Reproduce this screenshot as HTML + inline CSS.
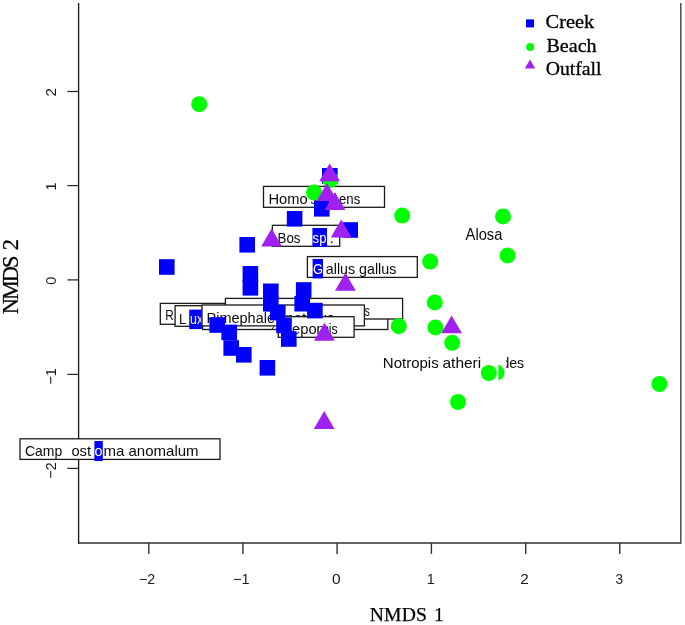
<!DOCTYPE html>
<html lang="en">
<head>
<meta charset="utf-8">
<title>NMDS ordination</title>
<style>
html,body{margin:0;padding:0;background:#ffffff;}
body{width:685px;height:625px;overflow:hidden;}
svg{display:block;}
.bx{fill:#ffffff;stroke:#1a1a1a;stroke-width:1.3;}
.lb{font-family:"Liberation Sans",sans-serif;font-size:14.6px;font-kerning:none;fill:#0a0a0a;}
.big{font-size:15.6px;}
.tk{font-family:"Liberation Sans",sans-serif;font-size:14.3px;font-kerning:none;fill:#1a1a1a;}
.ti{font-family:"Liberation Serif",serif;font-size:19.6px;fill:#000000;stroke:#000000;stroke-width:0.25px;}
.ti2{font-family:"Liberation Serif",serif;font-size:22.4px;fill:#000000;stroke:#000000;stroke-width:0.25px;}
.lg{font-family:"Liberation Serif",serif;font-size:19.8px;font-kerning:none;fill:#000000;stroke:#000000;stroke-width:0.3px;}
</style>
</head>
<body>
<svg width="685" height="625" viewBox="0 0 685 625">
<rect x="0" y="0" width="685" height="625" fill="#ffffff"/>
<path d="M78.6,543.0 H680.8" fill="none" stroke="#303030" stroke-width="1.6"/>
<path d="M78.6,3.0 V543.8" fill="none" stroke="#1a1a1a" stroke-width="1.35"/>
<path d="M680.8,3.0 V543.8" fill="none" stroke="#4d4d4d" stroke-width="1.5"/>
<path d="M148.8,543.0 V553.9" stroke="#303030" stroke-width="1.4"/>
<path d="M242.9,543.0 V553.9" stroke="#303030" stroke-width="1.4"/>
<path d="M337.1,543.0 V553.9" stroke="#303030" stroke-width="1.4"/>
<path d="M431.4,543.0 V553.9" stroke="#303030" stroke-width="1.4"/>
<path d="M525.7,543.0 V553.9" stroke="#303030" stroke-width="1.4"/>
<path d="M619.8,543.0 V553.9" stroke="#303030" stroke-width="1.4"/>
<path d="M78.6,91.5 H67.39999999999999" stroke="#262626" stroke-width="1.25"/>
<path d="M78.6,185.6 H67.39999999999999" stroke="#262626" stroke-width="1.25"/>
<path d="M78.6,279.9 H67.39999999999999" stroke="#262626" stroke-width="1.25"/>
<path d="M78.6,374.4 H67.39999999999999" stroke="#262626" stroke-width="1.25"/>
<path d="M78.6,468.4 H67.39999999999999" stroke="#262626" stroke-width="1.25"/>
<text class="tk" x="138.9" y="583.6" textLength="16.2" lengthAdjust="spacingAndGlyphs">−2</text>
<text class="tk" x="232.9" y="583.6" textLength="16.6" lengthAdjust="spacingAndGlyphs">−1</text>
<text class="tk" x="332.0" y="583.6" textLength="8.6" lengthAdjust="spacingAndGlyphs">0</text>
<text class="tk" x="426.7" y="583.6" textLength="8.0" lengthAdjust="spacingAndGlyphs">1</text>
<text class="tk" x="520.2" y="583.6" textLength="8.5" lengthAdjust="spacingAndGlyphs">2</text>
<text class="tk" x="615.5" y="583.6" textLength="7.5" lengthAdjust="spacingAndGlyphs">3</text>
<g transform="translate(56.1,92.3) rotate(-90) scale(1,1.07)">
<text class="tk" x="-4.2" y="0.0" textLength="8.4" lengthAdjust="spacingAndGlyphs">2</text>
</g>
<g transform="translate(56.1,186.2) rotate(-90) scale(1,1.07)">
<text class="tk" x="-4.2" y="0.0" textLength="8.0" lengthAdjust="spacingAndGlyphs">1</text>
</g>
<g transform="translate(56.1,280.7) rotate(-90) scale(1,1.07)">
<text class="tk" x="-4.0" y="0.0" textLength="8.0" lengthAdjust="spacingAndGlyphs">0</text>
</g>
<g transform="translate(56.1,376.4) rotate(-90) scale(1,1.07)">
<text class="tk" x="-8.2" y="0.0" textLength="16.4" lengthAdjust="spacingAndGlyphs">−1</text>
</g>
<g transform="translate(56.1,470.4) rotate(-90) scale(1,1.07)">
<text class="tk" x="-8.2" y="0.0" textLength="16.4" lengthAdjust="spacingAndGlyphs">−2</text>
</g>
<text class="ti" x="369.7" y="621.0" textLength="57.3" lengthAdjust="spacing">NMDS</text>
<text class="ti" x="433.9" y="621.0">1</text>
<g transform="translate(18.4,314.2) rotate(-90)"><text class="ti2" x="0" y="0" textLength="58.6" lengthAdjust="spacing">NMDS</text><text class="ti2" x="63.9" y="0">2</text></g>
<rect x="526.0" y="19.4" width="8.0" height="8.0" fill="#0000ff"/>
<circle cx="530.2" cy="47.0" r="4.0" fill="#00ff00"/>
<polygon points="530,59.6 524.8,68.6 535.2,68.6" fill="#a020f0"/>
<text class="lg" x="545.6" y="27.6" textLength="48.6" lengthAdjust="spacingAndGlyphs">Creek</text>
<text class="lg" x="546.4" y="52.2" textLength="50.3" lengthAdjust="spacingAndGlyphs">Beach</text>
<text class="lg" x="545.7" y="75.0" textLength="55.9" lengthAdjust="spacingAndGlyphs">Outfall</text>
<text class="lb big" x="465.6" y="239.7" textLength="36.8" lengthAdjust="spacingAndGlyphs">Alosa</text>
<text class="lb" x="382.8" y="367.8" textLength="55.9" lengthAdjust="spacingAndGlyphs">Notropis</text>
<text class="lb" x="442.5" y="367.8" textLength="38.7" lengthAdjust="spacingAndGlyphs">atheri</text>
<text class="lb" x="480.6" y="367.8" textLength="20.5" lengthAdjust="spacingAndGlyphs" style="fill:#ffffff">noi</text>
<clipPath id="cd"><rect x="505.8" y="350" width="30" height="24"/></clipPath>
<g clip-path="url(#cd)">
<text class="lb" x="501.4" y="367.8" textLength="22.7" lengthAdjust="spacingAndGlyphs">des</text>
</g>
<rect class="bx" x="263.5" y="186.4" width="121.0" height="20.9"/>
<text class="lb" x="268.5" y="203.6" textLength="39.2" lengthAdjust="spacingAndGlyphs">Homo</text>
<text class="lb" x="310.6" y="203.6" textLength="25.7" lengthAdjust="spacingAndGlyphs">sapi</text>
<text class="lb" x="339.0" y="203.6" textLength="21.3" lengthAdjust="spacingAndGlyphs">ens</text>
<rect class="bx" x="272.4" y="225.3" width="67.3" height="21.0"/>
<text class="lb" x="277.5" y="242.6" textLength="23.0" lengthAdjust="spacingAndGlyphs">Bos</text>
<rect x="312.4" y="228.0" width="14.6" height="19.0" fill="#0000ff"/>
<text class="lb" x="312.6" y="242.6" textLength="13.9" lengthAdjust="spacingAndGlyphs" style="fill:#ffffff">sp</text>
<text class="lb" x="329.6" y="242.6" textLength="4.4" lengthAdjust="spacingAndGlyphs">.</text>
<rect class="bx" x="307.4" y="256.6" width="109.9" height="20.8"/>
<rect x="312.6" y="259.0" width="10.4" height="19.4" fill="#0000ff"/>
<text class="lb" x="313.0" y="273.6" textLength="10.0" lengthAdjust="spacingAndGlyphs" style="fill:#ffffff">G</text>
<text class="lb" x="325.8" y="273.6" textLength="70.5" lengthAdjust="spacingAndGlyphs">allus gallus</text>
<rect class="bx" x="20.0" y="438.8" width="200.0" height="20.6"/>
<text class="lb" x="24.9" y="456.4" textLength="37.3" lengthAdjust="spacingAndGlyphs">Camp</text>
<text class="lb" x="71.4" y="456.4" textLength="19.7" lengthAdjust="spacingAndGlyphs">ost</text>
<rect x="94.4" y="441.0" width="8.4" height="20.0" fill="#0000ff"/>
<text class="lb" x="94.6" y="456.4" textLength="8.0" lengthAdjust="spacingAndGlyphs" style="fill:#ffffff">o</text>
<text class="lb" x="103.4" y="456.4" textLength="95.2" lengthAdjust="spacingAndGlyphs">ma anomalum</text>
<rect class="bx" x="160.3" y="303.4" width="169.7" height="20.9"/>
<text class="lb" x="165.2" y="320.2" textLength="8.5" lengthAdjust="spacingAndGlyphs">R</text>
<rect class="bx" x="175.1" y="305.7" width="164.9" height="20.6"/>
<text class="lb" x="179.1" y="324.2" textLength="7.3" lengthAdjust="spacingAndGlyphs">L</text>
<rect x="189.2" y="309.6" width="12.6" height="19.5" fill="#0000ff"/>
<text class="lb" x="190.0" y="324.2" textLength="13.1" lengthAdjust="spacingAndGlyphs" style="fill:#ffffff">ux</text>
<rect class="bx" x="202.6" y="308.6" width="185.2" height="20.9"/>
<path d="M272.0,329.0 L274.0,326.6" stroke="#1a1a1a" stroke-width="1"/>
<rect class="bx" x="225.4" y="298.4" width="177.2" height="20.6"/>
<text class="lb" x="364.7" y="315.6" textLength="5.0" lengthAdjust="spacingAndGlyphs">s</text>
<rect class="bx" x="202.0" y="305.0" width="162.4" height="20.9"/>
<text class="lb" x="206.6" y="322.5" textLength="68.4" lengthAdjust="spacingAndGlyphs">Pimephale</text>
<text class="lb" x="277.3" y="322.5" textLength="5.0" lengthAdjust="spacingAndGlyphs">s</text>
<text class="lb" x="285.4" y="322.5" textLength="49.1" lengthAdjust="spacingAndGlyphs">notatus</text>
<rect class="bx" x="278.3" y="316.7" width="75.8" height="20.6"/>
<text class="lb" x="284.7" y="333.6" textLength="6.3" lengthAdjust="spacingAndGlyphs">L</text>
<text class="lb" x="292.0" y="333.6" textLength="24.6" lengthAdjust="spacingAndGlyphs">epo</text>
<text class="lb" x="316.3" y="333.6" textLength="13.1" lengthAdjust="spacingAndGlyphs">m</text>
<text class="lb" x="328.7" y="333.6" textLength="8.9" lengthAdjust="spacingAndGlyphs">is</text>
<rect x="322.0" y="168.0" width="15.6" height="15.6" fill="#0000ff"/>
<rect x="314.0" y="201.0" width="15.6" height="15.6" fill="#0000ff"/>
<rect x="286.8" y="211.0" width="15.6" height="15.6" fill="#0000ff"/>
<rect x="342.4" y="222.2" width="15.6" height="15.6" fill="#0000ff"/>
<rect x="239.4" y="237.0" width="15.6" height="15.6" fill="#0000ff"/>
<rect x="159.0" y="259.2" width="15.6" height="15.6" fill="#0000ff"/>
<rect x="242.6" y="266.0" width="15.6" height="15.6" fill="#0000ff"/>
<rect x="242.6" y="280.0" width="15.6" height="15.6" fill="#0000ff"/>
<rect x="263.0" y="283.5" width="15.6" height="15.6" fill="#0000ff"/>
<rect x="263.0" y="296.0" width="15.6" height="15.6" fill="#0000ff"/>
<rect x="270.0" y="304.8" width="15.6" height="15.6" fill="#0000ff"/>
<rect x="276.2" y="317.6" width="15.6" height="15.6" fill="#0000ff"/>
<rect x="281.0" y="331.2" width="15.6" height="15.6" fill="#0000ff"/>
<rect x="295.9" y="282.2" width="15.6" height="15.6" fill="#0000ff"/>
<rect x="294.4" y="295.9" width="15.6" height="15.6" fill="#0000ff"/>
<rect x="307.1" y="302.8" width="15.6" height="15.6" fill="#0000ff"/>
<rect x="209.4" y="317.2" width="15.6" height="15.6" fill="#0000ff"/>
<rect x="221.4" y="324.6" width="15.6" height="15.6" fill="#0000ff"/>
<rect x="223.4" y="340.2" width="15.6" height="15.6" fill="#0000ff"/>
<rect x="236.0" y="347.0" width="15.6" height="15.6" fill="#0000ff"/>
<rect x="259.6" y="360.0" width="15.6" height="15.6" fill="#0000ff"/>
<circle cx="199.2" cy="104.2" r="8.0" fill="#00ff00"/>
<circle cx="330.4" cy="180.0" r="8.0" fill="#00ff00"/>
<circle cx="314.0" cy="192.4" r="8.0" fill="#00ff00"/>
<circle cx="402.2" cy="215.6" r="8.0" fill="#00ff00"/>
<circle cx="503.0" cy="216.4" r="8.0" fill="#00ff00"/>
<circle cx="507.6" cy="255.4" r="8.0" fill="#00ff00"/>
<circle cx="430.2" cy="261.6" r="8.0" fill="#00ff00"/>
<circle cx="434.8" cy="302.4" r="8.0" fill="#00ff00"/>
<circle cx="398.8" cy="326.2" r="8.0" fill="#00ff00"/>
<circle cx="435.4" cy="327.4" r="8.0" fill="#00ff00"/>
<circle cx="452.2" cy="342.8" r="8.0" fill="#00ff00"/>
<circle cx="458.0" cy="402.0" r="8.0" fill="#00ff00"/>
<circle cx="659.4" cy="384.0" r="8.0" fill="#00ff00"/>
<circle cx="496.5" cy="372.6" r="8.0" fill="#00ff00"/>
<rect x="480.7" y="362.0" width="17.6" height="20.0" fill="#ffffff"/>
<circle cx="488.8" cy="373.0" r="8.0" fill="#00ff00"/>
<polygon points="329.6,163.4 319.2,181.3 340.0,181.3" fill="#a020f0"/>
<polygon points="327.0,183.0 316.6,200.9 337.4,200.9" fill="#a020f0"/>
<polygon points="335.0,192.2 324.6,210.1 345.4,210.1" fill="#a020f0"/>
<polygon points="341.2,219.6 330.8,237.5 351.6,237.5" fill="#a020f0"/>
<polygon points="271.6,228.6 261.2,246.5 282.0,246.5" fill="#a020f0"/>
<polygon points="345.4,272.8 335.0,290.7 355.8,290.7" fill="#a020f0"/>
<polygon points="324.4,322.8 314.0,340.7 334.8,340.7" fill="#a020f0"/>
<polygon points="451.6,315.4 441.2,333.3 462.0,333.3" fill="#a020f0"/>
<polygon points="324.2,411.0 313.8,428.9 334.6,428.9" fill="#a020f0"/>
</svg>
</body>
</html>
